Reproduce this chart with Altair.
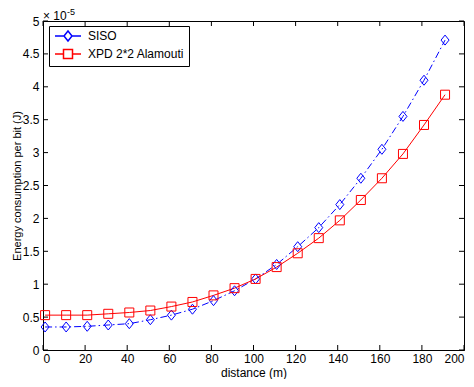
import altair as alt
import pandas as pd

distance = [1, 11, 21, 31, 41, 51, 61, 71, 81, 91, 101, 111, 121, 131, 141, 151, 161, 171, 181, 191]
siso = [0.35, 0.35, 0.36, 0.38, 0.40, 0.46, 0.53, 0.62, 0.75, 0.90, 1.08, 1.30, 1.57, 1.86, 2.21, 2.61, 3.05, 3.55, 4.10, 4.71]
xpd = [0.53, 0.53, 0.53, 0.55, 0.57, 0.60, 0.66, 0.73, 0.83, 0.94, 1.08, 1.26, 1.47, 1.70, 1.97, 2.28, 2.61, 2.98, 3.42, 3.88]
series_names = ["SISO", "XPD 2*2 Alamouti"]
series_colors = ["#0000ff", "#ff0000"]
x_ticks = [0, 20, 40, 60, 80, 100, 120, 140, 160, 180, 200]
y_ticks = [0, 0.5, 1, 1.5, 2, 2.5, 3, 3.5, 4, 4.5, 5]

W, H = 421, 329
FONT = "Liberation Sans"

df = pd.DataFrame({
    "distance": distance * 2,
    "energy": siso + xpd,
    "series": [series_names[0]] * len(distance) + [series_names[1]] * len(distance),
})
xt = pd.DataFrame({"distance": x_ticks})
yt = pd.DataFrame({"energy": y_ticks})

xs = alt.Scale(domain=[0, 200], nice=False, zero=False)
ys = alt.Scale(domain=[0, 5], nice=False, zero=False)

X = alt.X("distance:Q", scale=xs, axis=alt.Axis(
    title="distance (m)", values=x_ticks, ticks=False, grid=False, labelPadding=3, labelOverlap=False,
    titlePadding=3, domainColor="black", labelColor="black", titleColor="black",
    labelFont=FONT, titleFont=FONT, labelFontSize=12, titleFontSize=12, titleFontWeight="normal"))
Y = alt.Y("energy:Q", scale=ys, axis=alt.Axis(
    title="Energy consumption per bit (J)", values=y_ticks, format="~g", ticks=False, grid=False,
    labelPadding=4, labelOverlap=False, titlePadding=0, domainColor="black", labelColor="black", titleColor="black",
    labelFont=FONT, titleFont=FONT, labelFontSize=12, titleFontSize=11, titleFontWeight="normal"))

diamond = "M0,-1L0.8,0L0,1L-0.8,0Z"

layers = []
siso_df = df[df.series == series_names[0]]
xpd_df = df[df.series == series_names[1]]

layers.append(alt.Chart(siso_df).mark_line(color=series_colors[0], strokeWidth=1, strokeDash=[7, 3, 1.5, 3]).encode(x=X, y=Y))
layers.append(alt.Chart(xpd_df).mark_line(color=series_colors[1], strokeWidth=1).encode(x=X, y=Y))
layers.append(alt.Chart(siso_df).mark_point(shape=diamond, size=100, filled=False, strokeWidth=1, color=series_colors[0], opacity=1).encode(x=X, y=Y))
layers.append(alt.Chart(xpd_df).mark_point(shape="square", size=81, filled=False, strokeWidth=1, color=series_colors[1], opacity=1).encode(x=X, y=Y))

# legend only layer
leg_paths = [
    "M-2.6,0L-0.8,0M0.8,0L2.6,0M0,-1L0.8,0L0,1L-0.8,0Z",
    "M-2.6,0L-0.9,0M0.9,0L2.6,0M-0.9,-0.9L0.9,-0.9L0.9,0.9L-0.9,0.9Z",
]
layers.append(alt.Chart(df).transform_filter("false").mark_point(filled=False, size=100, strokeWidth=1, opacity=1).encode(
    color=alt.Color("series:N", scale=alt.Scale(domain=series_names, range=series_colors), legend=alt.Legend(title=None)),
    shape=alt.Shape("series:N", scale=alt.Scale(domain=series_names, range=leg_paths), legend=alt.Legend(title=None)),
))

# inside ticks on all four sides
layers.append(alt.Chart(xt).mark_rule(color="black", strokeWidth=1).encode(x=X, y=alt.value(H), y2=alt.value(H - 5)))
layers.append(alt.Chart(xt).mark_rule(color="black", strokeWidth=1).encode(x=X, y=alt.value(0), y2=alt.value(5)))
layers.append(alt.Chart(yt).mark_rule(color="black", strokeWidth=1).encode(y=Y, x=alt.value(0), x2=alt.value(5)))
layers.append(alt.Chart(yt).mark_rule(color="black", strokeWidth=1).encode(y=Y, x=alt.value(W), x2=alt.value(W - 5)))

# exponent annotation
layers.append(alt.Chart(pd.DataFrame({"t": ["× 10"]})).mark_text(align="left", baseline="middle", font=FONT, fontSize=12, color="black").encode(
    text="t:N", x=alt.value(0), y=alt.value(-5)))
layers.append(alt.Chart(pd.DataFrame({"t": ["-5"]})).mark_text(align="left", baseline="middle", font=FONT, fontSize=9, color="black").encode(
    text="t:N", x=alt.value(24), y=alt.value(-9)))

chart = alt.layer(*layers).properties(
    width=W, height=H,
    autosize=alt.AutoSizeParams(type="none"),
    padding={"left": 35, "top": 13, "right": 2, "bottom": 29},
).configure_view(stroke="black", strokeWidth=1).configure_legend(
    orient="none", legendX=6, legendY=5, padding=4, strokeColor="black", fillColor="white",
    labelFont=FONT, labelFontSize=12, labelColor="black", labelOffset=14, rowPadding=2,
    symbolOffset=9, cornerRadius=0
)

chart.save("out.html", embed_options={"renderer": "svg", "actions": False})
